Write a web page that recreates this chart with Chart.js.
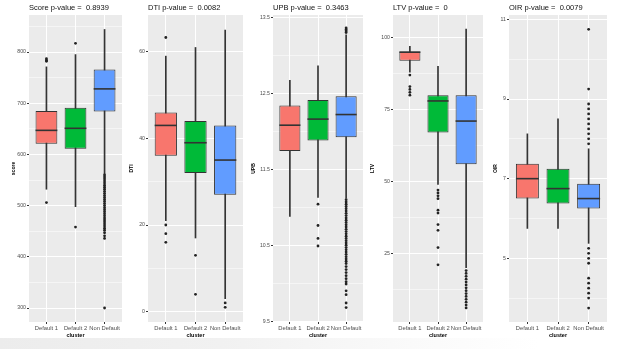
<!DOCTYPE html>
<html>
<head>
<meta charset="utf-8">
<script src="https://cdn.jsdelivr.net/npm/chart.js@4.4.1/dist/chart.umd.min.js"></script>
<style>
  html, body { margin: 0; padding: 0; background: #fff; }
  #wrap { position: relative; width: 634px; height: 349px; overflow: hidden; }
  #wrap canvas { position: absolute; top: 0; }
  #shade { position: absolute; left: 0; top: 338px; width: 634px; height: 11px;
           background: linear-gradient(to right, #ececec 0%, #f1f1f1 35%, #fafafa 65%, #fff 85%); }
</style>
</head>
<body>
<div id="wrap">
  <div id="shade"></div>
  <canvas id="p1" width="126" height="349" style="left:0px"></canvas>
  <canvas id="p2" width="121" height="349" style="left:126px"></canvas>
  <canvas id="p3" width="120" height="349" style="left:247px"></canvas>
  <canvas id="p4" width="120" height="349" style="left:367px"></canvas>
  <canvas id="p5" width="147" height="349" style="left:487px"></canvas>
</div>
<script>
"use strict";

// groups on the x axis of every panel
const clusters = ['Default 1', 'Default 2', 'Non Default'];
const fillColors = ['#F8766D', '#00BA38', '#619CFF'];

// box stats per cluster: [lower whisker, q1, median, q3, upper whisker]
// score
const scoreStats = [[532, 621, 647, 685, 771], [498, 611, 651, 691, 795], [562, 684, 728, 766, 844]];
const scoreOutliers = [
  [506, 782, 784, 787],
  [458, 817],
  [560, 556, 552, 548, 544, 540, 536, 532, 528, 524, 520, 516, 512, 508, 504, 500, 496, 492,
   488, 484, 480, 476, 472, 468, 464, 460, 456, 452, 447, 441, 436, 300]
];
const scoreTicks = [300, 400, 500, 600, 700, 800];
const scoreMinor = [350, 450, 550, 650, 750, 850];

// DTI
const dtiStats = [[21, 36, 43, 46, 59], [17, 32, 39, 44, 61], [3, 27, 35, 43, 65]];
const dtiOutliers = [[63.3, 20, 18, 16], [13, 4], [2, 1]];
const dtiTicks = [0, 20, 40, 60];
const dtiMinor = [10, 30, 50];

// UPB
const upbStats = [[10.88, 11.74, 12.08, 12.34, 12.67], [11.13, 11.88, 12.16, 12.41, 12.86], [11.12, 11.92, 12.22, 12.46, 13.27]];
const upbOutliers = [
  [],
  [11.04, 10.76, 10.59, 10.49],
  [13.30, 13.32, 13.34, 13.36,
   11.10, 11.07, 11.04, 11.01, 10.98, 10.95, 10.92, 10.89, 10.86, 10.83, 10.80, 10.77, 10.74, 10.71,
   10.68, 10.65, 10.62, 10.59, 10.56, 10.53, 10.50, 10.47, 10.44, 10.41, 10.38, 10.35, 10.32, 10.29,
   10.26, 10.22, 10.18, 10.14, 10.10, 10.06, 10.02, 9.99, 9.90, 9.85, 9.74, 9.68]
];
const upbTicks = [9.5, 10.5, 11.5, 12.5, 13.5];
const upbMinor = [10, 11, 12, 13];

// LTV
const ltvStats = [[88, 92, 95, 95, 97], [49, 67, 78, 80, 90], [20, 56, 71, 80, 103]];
const ltvOutliers = [
  [87, 83, 82, 81, 80],
  [47, 46, 45, 44, 40, 39, 35, 33, 27, 21],
  [19, 18, 17, 16, 15, 14, 13, 12, 11, 10, 9, 8, 7, 6]
];
const ltvTicks = [25, 50, 75, 100];
const ltvMinor = [12.5, 37.5, 62.5, 87.5];

// OIR
const oirStats = [[5.75, 6.5, 7.0, 7.375, 8.125], [5.75, 6.375, 6.75, 7.25, 8.5], [5.375, 6.25, 6.5, 6.875, 7.75]];
const oirOutliers = [
  [],
  [],
  [10.75, 9.25, 8.875, 8.75, 8.625, 8.5, 8.375, 8.25, 8.125, 8.0, 7.875,
   5.25, 5.125, 5.0, 4.875, 4.5, 4.375, 4.25, 4.125, 4.0, 3.75]
];
const oirTicks = [5, 7, 9, 11];
const oirMinor = [4, 6, 8, 10];

Chart.defaults.font.family = '"Liberation Sans", Arial, Helvetica, sans-serif';

// grey panel behind the grid, like ggplot's theme_grey
const panelBg = {
  id: 'panelBg',
  beforeDraw(chart) {
    const a = chart.chartArea, ctx = chart.ctx;
    ctx.save();
    ctx.fillStyle = '#EBEBEB';
    ctx.fillRect(a.left, a.top, a.right - a.left, a.bottom - a.top);
    ctx.restore();
  }
};

function boxPanel(id, p) {
  const isMajor = v => p.ticks.includes(v);
  const outPts = [];
  p.outliers.forEach((list, i) => list.forEach(v => outPts.push({ x: i + 1, y: v })));

  return new Chart(document.getElementById(id), {
    type: 'bar',
    data: {
      datasets: [{
        // boxes q1..q3
        data: p.stats.map((s, i) => ({ x: i + 1, y: [s[1], s[3]] })),
        backgroundColor: fillColors,
        borderColor: '#333333',
        borderWidth: 1,
        borderSkipped: false,
        grouped: false,
        barPercentage: 0.75,
        categoryPercentage: 1,
        order: 2
      }, {
        // whiskers
        data: p.stats.map((s, i) => ({ x: i + 1, y: [s[0], s[4]] })),
        backgroundColor: '#333333',
        barThickness: 1,
        grouped: false,
        order: 3
      }, {
        // medians
        type: 'scatter',
        data: p.stats.map((s, i) => ({ x: i + 1, y: s[2] })),
        pointStyle: 'line',
        pointRadius: c => c.chart.scales.x.getPixelForValue(1.375) - c.chart.scales.x.getPixelForValue(1),
        borderColor: '#333333',
        borderWidth: 1.6,
        order: 1
      }, {
        // outliers
        type: 'scatter',
        data: outPts,
        pointRadius: 1.4,
        backgroundColor: '#222222',
        borderWidth: 0,
        order: 0
      }]
    },
    options: {
      responsive: false,
      animation: false,
      events: [],
      devicePixelRatio: 1,
      layout: { padding: { left: 0, right: p.padRight, top: 0, bottom: 0 } },
      plugins: {
        legend: { display: false },
        tooltip: { enabled: false },
        title: {
          display: true,
          text: p.title,
          align: 'start',
          fullSize: false,
          color: '#111',
          font: { size: 7.5, weight: 'normal' },
          padding: { top: 3, bottom: 3 }
        }
      },
      scales: {
        x: {
          type: 'linear',
          min: 0.4,
          max: 3.6,
          offset: false,
          afterBuildTicks: s => { s.ticks = clusters.map((c, i) => ({ value: i + 1 })); },
          afterFit: s => { s.height = 27; },
          ticks: {
            autoSkip: false,
            maxRotation: 0,
            padding: 1,
            color: '#4D4D4D',
            font: { size: 5.8 },
            callback: v => clusters[v - 1]
          },
          grid: { offset: false, color: '#FFFFFF', lineWidth: 1, tickLength: 2, tickColor: '#333333' },
          border: { display: false },
          title: {
            display: true,
            text: 'cluster',
            color: '#000',
            font: { size: 5.5, weight: 'bold' },
            padding: { top: 0, bottom: 10.5 }
          }
        },
        y: {
          min: p.min,
          max: p.max,
          bounds: 'data',
          afterBuildTicks: s => {
            s.ticks = p.ticks.concat(p.minor).sort((a, b) => a - b).map(v => ({ value: v }));
          },
          afterFit: s => { s.width = p.axisWidth; },
          ticks: {
            autoSkip: false,
            padding: 1,
            color: '#4D4D4D',
            font: { size: 5.2 },
            callback: v => isMajor(v) ? String(v) : ''
          },
          grid: {
            color: '#FFFFFF',
            lineWidth: c => isMajor(c.tick.value) ? 1 : 0.5,
            tickLength: 2,
            tickColor: c => isMajor(c.tick.value) ? '#333333' : 'rgba(0,0,0,0)'
          },
          border: { display: false },
          title: {
            display: true,
            text: p.yTitle,
            color: '#000',
            font: { size: 5, weight: 'bold' },
            padding: { top: p.yTitlePad, bottom: 0 }
          }
        }
      }
    },
    plugins: [panelBg]
  });
}

boxPanel('p1', {
  title: 'Score p-value =  0.8939', yTitle: 'score',
  stats: scoreStats, outliers: scoreOutliers, ticks: scoreTicks, minor: scoreMinor,
  min: 272.7, max: 872.3, axisWidth: 29, yTitlePad: 10.5, padRight: 0
});
boxPanel('p2', {
  title: 'DTI p-value =  0.0082', yTitle: 'DTI',
  stats: dtiStats, outliers: dtiOutliers, ticks: dtiTicks, minor: dtiMinor,
  min: -2.4, max: 68.5, axisWidth: 22, yTitlePad: 3, padRight: 0
});
boxPanel('p3', {
  title: 'UPB p-value =  0.3463', yTitle: 'UPB',
  stats: upbStats, outliers: upbOutliers, ticks: upbTicks, minor: upbMinor,
  min: 9.49, max: 13.53, axisWidth: 26, yTitlePad: 3.3, padRight: 0
});
boxPanel('p4', {
  title: 'LTV p-value =  0', yTitle: 'LTV',
  stats: ltvStats, outliers: ltvOutliers, ticks: ltvTicks, minor: ltvMinor,
  min: 1.1, max: 107.9, axisWidth: 26, yTitlePad: 3, padRight: 0
});
boxPanel('p5', {
  title: 'OIR p-value =  0.0079', yTitle: 'OIR',
  stats: oirStats, outliers: oirOutliers, ticks: oirTicks, minor: oirMinor,
  min: 3.4, max: 11.11, axisWidth: 22, yTitlePad: 5.7, padRight: 27
});
</script>
</body>
</html>
